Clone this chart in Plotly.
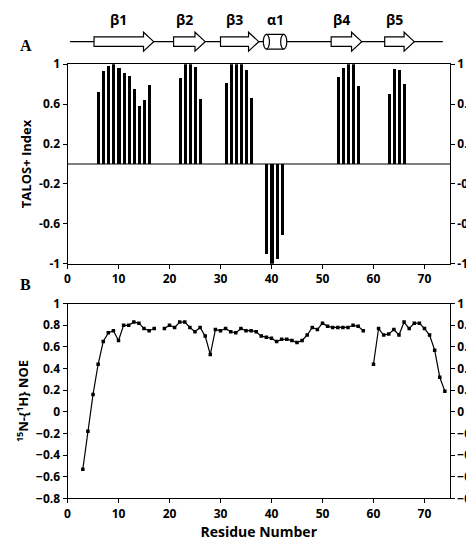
import plotly.graph_objects as go

# TALOS+ index per residue
talos_res = [6, 7, 8, 9, 10, 11, 12, 13, 14, 15, 16,
             22, 23, 24, 25, 26,
             31, 32, 33, 34, 35, 36,
             39, 40, 41, 42,
             53, 54, 55, 56, 57,
             63, 64, 65, 66]
talos_val = [0.72, 0.93, 0.98, 1.0, 0.96, 0.91, 0.88, 0.75, 0.58, 0.64, 0.79,
             0.86, 1.0, 1.0, 0.97, 0.65,
             0.81, 1.0, 1.0, 1.0, 0.94, 0.66,
             -0.9, -1.0, -0.95, -0.71,
             0.87, 0.96, 1.0, 1.0, 0.78,
             0.70, 0.95, 0.94, 0.80]

# 15N-{1H} NOE (None = missing residue)
noe_res = list(range(3, 75))
noe_val = [-0.53, -0.18, 0.16, 0.44, 0.65, 0.73, 0.75, 0.66, 0.80, 0.80,
           0.83, 0.82, 0.77, 0.75, 0.77, None, 0.77, 0.80, 0.78, 0.83,
           0.83, 0.78, 0.74, 0.78, 0.70, 0.53, 0.76, 0.75, 0.77, 0.74,
           0.73, 0.77, 0.75, 0.75, 0.74, 0.70, 0.69, 0.68, 0.65, 0.67,
           0.67, 0.66, 0.64, 0.66, 0.71, 0.78, 0.76, 0.82, 0.79, 0.78,
           0.78, 0.78, 0.78, 0.80, 0.79, 0.75, None, 0.44, 0.77, 0.71,
           0.72, 0.76, 0.71, 0.83, 0.77, 0.82, 0.82, 0.77, 0.71, 0.57,
           0.32, 0.19]

# secondary structure elements (start, end residue)
strands = [("β1", 5.2, 16.9), ("β2", 20.8, 27.0), ("β3", 30.0, 37.5),
           ("β4", 51.7, 57.7), ("β5", 62.2, 68.0)]
helix = ("α1", 38.4, 43.0)

FONT = "Open Sans"
fig = go.Figure()
fig.add_trace(go.Bar(x=talos_res, y=talos_val, width=0.6,
                     marker=dict(color="black", line=dict(width=0)),
                     xaxis="x", yaxis="y", showlegend=False))
fig.add_trace(go.Scatter(x=noe_res, y=noe_val, mode="lines+markers",
                         line=dict(color="black", width=1.2),
                         marker=dict(color="black", size=3.5, symbol="square"),
                         connectgaps=False, xaxis="x2", yaxis="y2", showlegend=False))
# invisible traces to activate right-hand axes
fig.add_trace(go.Scatter(x=[None], y=[None], xaxis="x", yaxis="y3", showlegend=False))
fig.add_trace(go.Scatter(x=[None], y=[None], xaxis="x2", yaxis="y4", showlegend=False))

tickf = dict(family=FONT, size=12, color="black", weight="bold")
ax = dict(showgrid=False, zeroline=False, showline=True, linecolor="black", linewidth=1,
          ticks="outside", ticklen=4, tickcolor="black", tickfont=tickf)
xdom = [0.12, 0.932]
tv = [-1, -0.6, -0.2, 0.2, 0.6, 1]
tt = ["-1", "-0.6", "-0.2", "0.2", "0.6", "1"]
fig.update_layout(
    width=474, height=542, margin=dict(l=0, r=0, t=0, b=0),
    plot_bgcolor="white", paper_bgcolor="white",
    xaxis=dict(ax, domain=xdom, range=[0, 75], dtick=10, anchor="y", mirror=True),
    yaxis=dict(ax, domain=[0.53, 0.91], range=[-1, 1], tickvals=tv, ticktext=tt,
               title=dict(text="TALOS+ Index", font=dict(family=FONT, size=13, color="black", weight="bold"), standoff=4)),
    yaxis3=dict(ax, overlaying="y", side="right", matches="y", tickvals=tv, ticktext=tt, anchor="x"),
    xaxis2=dict(ax, domain=xdom, range=[0, 75], dtick=10, anchor="y2", mirror=True,
                title=dict(text="Residue Number", font=dict(family=FONT, size=14, color="black", weight="bold"), standoff=6)),
    yaxis2=dict(ax, domain=[0.083, 0.454], range=[-0.8, 1], dtick=0.2, anchor="x2",
                title=dict(text="<sup>15</sup>N-{<sup>1</sup>H} NOE", font=dict(family=FONT, size=13, color="black", weight="bold"), standoff=4)),
    yaxis4=dict(ax, overlaying="y2", side="right", matches="y2", dtick=0.2, anchor="x2"),
    bargap=0,
)
fig.add_shape(type="line", xref="x", yref="y", x0=0, x1=75, y0=0, y1=0, line=dict(color="black", width=1))

# secondary structure diagram
yc, hh = 0.953, 0.009
fig.add_shape(type="line", xref="x", yref="paper", x0=0.5, x1=73.6, y0=yc, y1=yc, line=dict(color="black", width=1.2))
for name, s, e in strands:
    head = min(2.0, (e - s) * 0.35)
    b = e - head
    path = (f"M {s},{yc-hh} L {b},{yc-hh} L {b},{yc-2*hh} L {e},{yc} L {b},{yc+2*hh} "
            f"L {b},{yc+hh} L {s},{yc+hh} Z")
    fig.add_shape(type="path", xref="x", yref="paper", path=path,
                  fillcolor="white", line=dict(color="black", width=1.2))
    fig.add_annotation(x=(s + b) / 2, y=yc + 0.02, xref="x", yref="paper", text=name, showarrow=False,
                       yanchor="bottom", font=dict(family=FONT, size=14, color="black", weight="bold"))
name, s, e = helix
fig.add_shape(type="rect", xref="x", yref="paper", x0=s + 0.6, x1=e - 0.6, y0=yc - 0.014, y1=yc + 0.014,
              fillcolor="white", line=dict(color="black", width=1.2))
fig.add_shape(type="circle", xref="x", yref="paper", x0=s, x1=s + 1.2, y0=yc - 0.014, y1=yc + 0.014,
              fillcolor="white", line=dict(color="black", width=1.2))
fig.add_shape(type="circle", xref="x", yref="paper", x0=e - 1.2, x1=e, y0=yc - 0.014, y1=yc + 0.014,
              fillcolor="white", line=dict(color="black", width=1.2))
fig.add_annotation(x=(s + e) / 2, y=yc + 0.02, xref="x", yref="paper", text=name, showarrow=False,
                   yanchor="bottom", font=dict(family=FONT, size=14, color="black", weight="bold"))

for lab, yy in [("A", 0.925), ("B", 0.47)]:
    fig.add_annotation(x=0.015, y=yy, xref="paper", yref="paper", text=lab, showarrow=False,
                       xanchor="left", yanchor="bottom",
                       font=dict(family="Liberation Serif", size=16, color="black", weight="bold"))

fig.write_html("out.html")
